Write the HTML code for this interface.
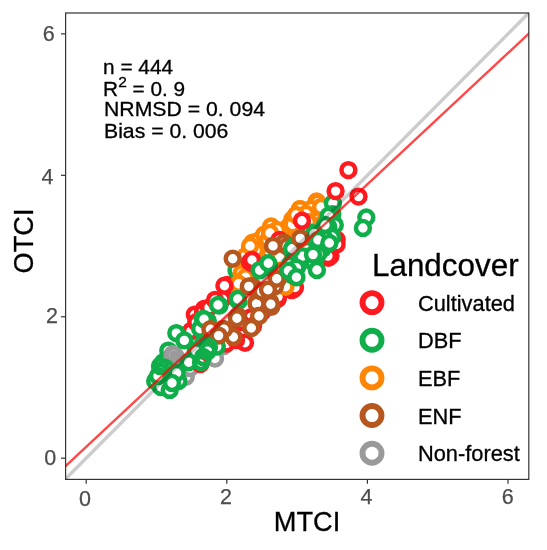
<!DOCTYPE html>
<html><head><meta charset="utf-8"><title>MTCI vs OTCI</title>
<style>
html,body{margin:0;padding:0;background:#fff;}
svg{display:block;}
text{font-family:"Liberation Sans",sans-serif;}
.tick{stroke:#4d4d4d;stroke-width:0.25px;fill:#4d4d4d;font-size:21.5px;}
.ax{stroke:#000;stroke-width:0.3px;fill:#000;font-size:27.2px;}
.ann{stroke:#000;stroke-width:0.3px;fill:#000;font-size:20.8px;}
.leg{stroke:#000;stroke-width:0.3px;fill:#000;font-size:21.8px;}
.pt{fill:#fff;stroke-width:4.5;}
</style></head><body>
<svg width="547" height="550" viewBox="0 0 547 550">
<rect x="0" y="0" width="547" height="550" fill="#fff"/>
<defs><clipPath id="cp"><rect x="65.6" y="13" width="463.2" height="466.4"/></clipPath></defs>

<g class="pt">
<circle cx="168.3" cy="350.6" r="6.95" stroke="#0fae4b"/>
<circle cx="163.2" cy="362.2" r="6.95" stroke="#0fae4b"/>
<circle cx="172.7" cy="354.2" r="6.95" stroke="#9a9a9a"/>
<circle cx="175.6" cy="356.4" r="6.95" stroke="#9a9a9a"/>
<circle cx="174.0" cy="355.0" r="6.95" stroke="#9a9a9a"/>
<circle cx="197.4" cy="340.4" r="6.95" stroke="#9a9a9a"/>
<circle cx="215.0" cy="358.5" r="6.95" stroke="#9a9a9a"/>
<circle cx="185.8" cy="376.8" r="6.95" stroke="#9a9a9a"/>
<circle cx="170.0" cy="376.0" r="6.95" stroke="#9a9a9a"/>
<circle cx="197.6" cy="338.9" r="6.95" stroke="#9a9a9a"/>
<circle cx="223.8" cy="346.0" r="6.95" stroke="#9a9a9a"/>
<circle cx="190.0" cy="368.0" r="6.95" stroke="#9a9a9a"/>
<circle cx="174.2" cy="355.3" r="5" fill="#9a9a9a" stroke="none"/>
<circle cx="194.8" cy="314.6" r="6.95" stroke="#ff1a1f"/>
<circle cx="204.0" cy="309.0" r="6.95" stroke="#ff1a1f"/>
<circle cx="191.0" cy="331.0" r="6.95" stroke="#ff1a1f"/>
<circle cx="226.5" cy="343.5" r="6.95" stroke="#ff1a1f"/>
<circle cx="200.3" cy="364.0" r="6.95" stroke="#ff1a1f"/>
<circle cx="203.0" cy="312.0" r="6.95" stroke="#ff1a1f"/>
<circle cx="196.3" cy="322.2" r="6.95" stroke="#ff1a1f"/>
<circle cx="222.5" cy="299.0" r="6.95" stroke="#ff1a1f"/>
<circle cx="251.3" cy="317.1" r="6.95" stroke="#ff1a1f"/>
<circle cx="245.0" cy="342.7" r="6.95" stroke="#ff1a1f"/>
<circle cx="236.0" cy="340.0" r="6.95" stroke="#ff1a1f"/>
<circle cx="227.6" cy="285.0" r="6.95" stroke="#ff1a1f"/>
<circle cx="291.6" cy="290.0" r="6.95" stroke="#ff1a1f"/>
<circle cx="280.0" cy="236.0" r="6.95" stroke="#ff1a1f"/>
<circle cx="277.5" cy="299.0" r="6.95" stroke="#ff1a1f"/>
<circle cx="293.2" cy="289.4" r="6.95" stroke="#ff1a1f"/>
<circle cx="253.0" cy="326.0" r="6.95" stroke="#ff1a1f"/>
<circle cx="209.0" cy="307.6" r="6.95" stroke="#ff1a1f"/>
<circle cx="257.7" cy="259.1" r="6.95" stroke="#ff1a1f"/>
<circle cx="330.4" cy="256.0" r="6.95" stroke="#ff1a1f"/>
<circle cx="336.6" cy="239.6" r="6.95" stroke="#ff1a1f"/>
<circle cx="336.1" cy="241.1" r="6.95" stroke="#ff1a1f"/>
<circle cx="328.4" cy="257.7" r="6.95" stroke="#ff1a1f"/>
<circle cx="295.0" cy="287.5" r="6.95" stroke="#ff1a1f"/>
<circle cx="327.9" cy="256.1" r="6.95" stroke="#ff1a1f"/>
<circle cx="336.6" cy="244.4" r="6.95" stroke="#ff1a1f"/>
<circle cx="278.0" cy="297.0" r="6.95" stroke="#ff1a1f"/>
<circle cx="302.9" cy="221.8" r="6.95" stroke="#ff1a1f"/>
<circle cx="215.0" cy="300.0" r="6.95" stroke="#ff1a1f"/>
<circle cx="262.0" cy="312.0" r="6.95" stroke="#ff1a1f"/>
<circle cx="240.0" cy="322.0" r="6.95" stroke="#ff1a1f"/>
<circle cx="236.5" cy="270.2" r="6.95" stroke="#0fae4b"/>
<circle cx="262.0" cy="238.8" r="6.95" stroke="#ff8505"/>
<circle cx="252.5" cy="242.7" r="6.95" stroke="#ff8505"/>
<circle cx="257.0" cy="249.7" r="6.95" stroke="#ff8505"/>
<circle cx="245.5" cy="256.1" r="6.95" stroke="#ff8505"/>
<circle cx="246.8" cy="267.0" r="6.95" stroke="#ff8505"/>
<circle cx="241.6" cy="273.4" r="6.95" stroke="#ff8505"/>
<circle cx="245.5" cy="277.3" r="6.95" stroke="#ff8505"/>
<circle cx="237.8" cy="286.2" r="6.95" stroke="#ff8505"/>
<circle cx="285.2" cy="285.0" r="6.95" stroke="#ff8505"/>
<circle cx="281.3" cy="256.8" r="6.95" stroke="#ff8505"/>
<circle cx="238.5" cy="283.8" r="6.95" stroke="#ff8505"/>
<circle cx="316.6" cy="201.5" r="6.95" stroke="#ff8505"/>
<circle cx="299.9" cy="209.2" r="6.95" stroke="#ff8505"/>
<circle cx="271.1" cy="226.5" r="6.95" stroke="#ff8505"/>
<circle cx="310.2" cy="215.6" r="6.95" stroke="#ff8505"/>
<circle cx="292.3" cy="219.4" r="6.95" stroke="#ff8505"/>
<circle cx="283.3" cy="232.3" r="6.95" stroke="#ff8505"/>
<circle cx="257.7" cy="241.2" r="6.95" stroke="#ff8505"/>
<circle cx="255.1" cy="250.2" r="6.95" stroke="#ff8505"/>
<circle cx="264.1" cy="234.8" r="6.95" stroke="#ff8505"/>
<circle cx="278.2" cy="255.3" r="6.95" stroke="#ff8505"/>
<circle cx="288.4" cy="227.1" r="6.95" stroke="#ff8505"/>
<circle cx="317.5" cy="202.7" r="6.95" stroke="#ff8505"/>
<circle cx="300.2" cy="209.1" r="6.95" stroke="#ff8505"/>
<circle cx="314.3" cy="212.9" r="6.95" stroke="#ff8505"/>
<circle cx="311.0" cy="209.0" r="6.95" stroke="#ff8505"/>
<circle cx="292.6" cy="224.4" r="6.95" stroke="#ff8505"/>
<circle cx="306.0" cy="214.0" r="6.95" stroke="#ff8505"/>
<circle cx="277.0" cy="230.0" r="6.95" stroke="#ff8505"/>
<circle cx="268.0" cy="240.0" r="6.95" stroke="#ff8505"/>
<circle cx="250.0" cy="246.0" r="6.95" stroke="#ff8505"/>
<circle cx="285.5" cy="286.8" r="6.95" stroke="#ff8505"/>
<circle cx="279.6" cy="257.5" r="6.95" stroke="#ff8505"/>
<circle cx="296.0" cy="215.0" r="6.95" stroke="#ff8505"/>
<circle cx="321.0" cy="207.0" r="6.95" stroke="#ff8505"/>
<circle cx="308.0" cy="222.0" r="6.95" stroke="#ff8505"/>
<circle cx="270.0" cy="233.0" r="6.95" stroke="#ff8505"/>
<circle cx="250.0" cy="262.0" r="6.95" stroke="#ff1a1f"/>
<circle cx="254.0" cy="264.0" r="6.95" stroke="#ff1a1f"/>
<circle cx="252.0" cy="260.0" r="6.95" stroke="#ff1a1f"/>
<circle cx="279.4" cy="240.0" r="6.95" stroke="#ff1a1f"/>
<circle cx="267.9" cy="265.1" r="6.95" stroke="#0fae4b"/>
<circle cx="238.5" cy="301.1" r="6.95" stroke="#0fae4b"/>
<circle cx="202.7" cy="319.0" r="6.95" stroke="#0fae4b"/>
<circle cx="207.8" cy="321.0" r="6.95" stroke="#0fae4b"/>
<circle cx="202.7" cy="344.0" r="6.95" stroke="#0fae4b"/>
<circle cx="200.1" cy="328.7" r="6.95" stroke="#0fae4b"/>
<circle cx="207.8" cy="344.0" r="6.95" stroke="#0fae4b"/>
<circle cx="216.8" cy="346.6" r="6.95" stroke="#0fae4b"/>
<circle cx="237.8" cy="299.0" r="6.95" stroke="#0fae4b"/>
<circle cx="219.5" cy="305.5" r="6.95" stroke="#0fae4b"/>
<circle cx="204.0" cy="319.2" r="6.95" stroke="#0fae4b"/>
<circle cx="287.7" cy="269.6" r="6.95" stroke="#0fae4b"/>
<circle cx="292.9" cy="272.0" r="6.95" stroke="#0fae4b"/>
<circle cx="269.4" cy="267.0" r="6.95" stroke="#0fae4b"/>
<circle cx="290.3" cy="247.8" r="6.95" stroke="#0fae4b"/>
<circle cx="296.9" cy="267.4" r="6.95" stroke="#0fae4b"/>
<circle cx="291.4" cy="274.7" r="6.95" stroke="#0fae4b"/>
<circle cx="284.0" cy="242.7" r="6.95" stroke="#b5571f"/>
<circle cx="287.1" cy="246.3" r="6.95" stroke="#b5571f"/>
<circle cx="252.5" cy="286.2" r="6.95" stroke="#b5571f"/>
<circle cx="277.5" cy="279.8" r="6.95" stroke="#b5571f"/>
<circle cx="267.3" cy="291.3" r="6.95" stroke="#b5571f"/>
<circle cx="275.0" cy="286.2" r="6.95" stroke="#b5571f"/>
<circle cx="257.0" cy="301.6" r="6.95" stroke="#b5571f"/>
<circle cx="269.8" cy="301.6" r="6.95" stroke="#b5571f"/>
<circle cx="263.1" cy="292.1" r="6.95" stroke="#b5571f"/>
<circle cx="258.5" cy="303.1" r="6.95" stroke="#b5571f"/>
<circle cx="271.3" cy="306.7" r="6.95" stroke="#b5571f"/>
<circle cx="237.9" cy="315.9" r="6.95" stroke="#b5571f"/>
<circle cx="256.5" cy="303.7" r="6.95" stroke="#b5571f"/>
<circle cx="222.5" cy="329.3" r="6.95" stroke="#b5571f"/>
<circle cx="251.3" cy="328.0" r="6.95" stroke="#b5571f"/>
<circle cx="233.4" cy="337.0" r="6.95" stroke="#b5571f"/>
<circle cx="214.2" cy="335.0" r="6.95" stroke="#b5571f"/>
<circle cx="210.4" cy="329.3" r="6.95" stroke="#b5571f"/>
<circle cx="261.6" cy="291.5" r="6.95" stroke="#b5571f"/>
<circle cx="248.8" cy="286.4" r="6.95" stroke="#b5571f"/>
<circle cx="259.0" cy="316.0" r="6.95" stroke="#b5571f"/>
<circle cx="224.0" cy="329.3" r="6.95" stroke="#b5571f"/>
<circle cx="218.6" cy="335.6" r="6.95" stroke="#b5571f"/>
<circle cx="236.9" cy="318.3" r="6.95" stroke="#b5571f"/>
<circle cx="276.7" cy="278.7" r="6.95" stroke="#b5571f"/>
<circle cx="268.0" cy="289.7" r="6.95" stroke="#b5571f"/>
<circle cx="270.8" cy="304.3" r="6.95" stroke="#b5571f"/>
<circle cx="273.0" cy="245.9" r="6.95" stroke="#b5571f"/>
<circle cx="232.7" cy="258.7" r="6.95" stroke="#b5571f"/>
<circle cx="176.3" cy="333.1" r="6.95" stroke="#0fae4b"/>
<circle cx="195.9" cy="351.3" r="6.95" stroke="#0fae4b"/>
<circle cx="165.4" cy="368.0" r="6.95" stroke="#0fae4b"/>
<circle cx="169.0" cy="375.3" r="6.95" stroke="#0fae4b"/>
<circle cx="155.2" cy="381.1" r="6.95" stroke="#0fae4b"/>
<circle cx="161.0" cy="387.0" r="6.95" stroke="#0fae4b"/>
<circle cx="178.5" cy="381.0" r="6.95" stroke="#0fae4b"/>
<circle cx="169.7" cy="389.9" r="6.95" stroke="#0fae4b"/>
<circle cx="188.7" cy="362.2" r="6.95" stroke="#0fae4b"/>
<circle cx="184.3" cy="340.4" r="6.95" stroke="#0fae4b"/>
<circle cx="176.6" cy="373.0" r="6.95" stroke="#0fae4b"/>
<circle cx="207.6" cy="351.2" r="6.95" stroke="#0fae4b"/>
<circle cx="160.0" cy="372.0" r="6.95" stroke="#0fae4b"/>
<circle cx="172.0" cy="383.0" r="6.95" stroke="#0fae4b"/>
<circle cx="158.0" cy="376.0" r="6.95" stroke="#0fae4b"/>
<circle cx="218.0" cy="305.0" r="6.95" stroke="#0fae4b"/>
<circle cx="259.6" cy="270.2" r="6.95" stroke="#0fae4b"/>
<circle cx="332.9" cy="203.3" r="6.95" stroke="#0fae4b"/>
<circle cx="332.3" cy="214.2" r="6.95" stroke="#0fae4b"/>
<circle cx="328.6" cy="215.7" r="6.95" stroke="#0fae4b"/>
<circle cx="334.8" cy="225.1" r="6.95" stroke="#0fae4b"/>
<circle cx="328.4" cy="227.0" r="6.95" stroke="#0fae4b"/>
<circle cx="332.0" cy="237.0" r="6.95" stroke="#0fae4b"/>
<circle cx="323.3" cy="236.0" r="6.95" stroke="#0fae4b"/>
<circle cx="309.2" cy="232.1" r="6.95" stroke="#0fae4b"/>
<circle cx="314.0" cy="233.5" r="6.95" stroke="#0fae4b"/>
<circle cx="322.7" cy="248.8" r="6.95" stroke="#0fae4b"/>
<circle cx="315.6" cy="259.0" r="6.95" stroke="#0fae4b"/>
<circle cx="302.8" cy="256.5" r="6.95" stroke="#0fae4b"/>
<circle cx="293.8" cy="246.2" r="6.95" stroke="#0fae4b"/>
<circle cx="292.3" cy="250.2" r="6.95" stroke="#0fae4b"/>
<circle cx="303.0" cy="256.0" r="6.95" stroke="#0fae4b"/>
<circle cx="321.3" cy="248.6" r="6.95" stroke="#0fae4b"/>
<circle cx="268.3" cy="263.2" r="6.95" stroke="#0fae4b"/>
<circle cx="314.0" cy="263.0" r="6.95" stroke="#0fae4b"/>
<circle cx="290.0" cy="265.0" r="6.95" stroke="#0fae4b"/>
<circle cx="310.0" cy="245.0" r="6.95" stroke="#0fae4b"/>
<circle cx="318.0" cy="240.0" r="6.95" stroke="#0fae4b"/>
<circle cx="306.0" cy="250.0" r="6.95" stroke="#0fae4b"/>
<circle cx="300.0" cy="262.0" r="6.95" stroke="#0fae4b"/>
<circle cx="325.0" cy="225.0" r="6.95" stroke="#0fae4b"/>
<circle cx="318.0" cy="254.0" r="6.95" stroke="#0fae4b"/>
<circle cx="366.3" cy="217.5" r="6.95" stroke="#0fae4b"/>
<circle cx="362.9" cy="228.0" r="6.95" stroke="#0fae4b"/>
<circle cx="302.3" cy="256.1" r="6.95" stroke="#0fae4b"/>
<circle cx="316.9" cy="270.0" r="6.95" stroke="#0fae4b"/>
<circle cx="296.4" cy="267.8" r="6.95" stroke="#0fae4b"/>
<circle cx="288.4" cy="270.7" r="6.95" stroke="#0fae4b"/>
<circle cx="292.0" cy="248.8" r="6.95" stroke="#0fae4b"/>
<circle cx="296.4" cy="277.3" r="6.95" stroke="#0fae4b"/>
<circle cx="329.3" cy="243.0" r="6.95" stroke="#0fae4b"/>
<circle cx="313.0" cy="254.6" r="6.95" stroke="#0fae4b"/>
<circle cx="300.3" cy="238.4" r="6.95" stroke="#b5571f"/>
<circle cx="203.0" cy="357.0" r="6.95" stroke="#0fae4b" fill="none"/>
<circle cx="201.0" cy="362.0" r="6.95" stroke="#0fae4b" fill="none"/>
<circle cx="209.0" cy="347.0" r="6.95" stroke="#0fae4b" fill="none"/>
<circle cx="160.0" cy="366.0" r="6.95" stroke="#0fae4b" fill="none"/>
<circle cx="224.4" cy="285.8" r="6.95" stroke="#ff1a1f"/>
<circle cx="301.9" cy="220.7" r="6.95" stroke="#ff1a1f"/>
<circle cx="348.4" cy="170.1" r="6.95" stroke="#ff1a1f"/>
<circle cx="335.6" cy="191.1" r="6.95" stroke="#ff1a1f"/>
<circle cx="358.5" cy="196.6" r="6.95" stroke="#ff1a1f"/>
</g>
<g clip-path="url(#cp)">
<line x1="58.08" y1="486.488" x2="536.12" y2="5.592" stroke="#000" stroke-width="3.4" stroke-opacity="0.2"/>
<line x1="58.08" y1="473.065" x2="536.12" y2="26.7939" stroke="#ff0000" stroke-width="2.4" stroke-opacity="0.72"/>
</g>
<rect x="65.6" y="13" width="463.2" height="466.4" fill="none" stroke="#333" stroke-width="1.2"/>
<line x1="86.2" y1="479.4" x2="86.2" y2="483.8" stroke="#333" stroke-width="1.2"/>
<line x1="61" y1="458.2" x2="65.6" y2="458.2" stroke="#333" stroke-width="1.2"/>
<line x1="226.8" y1="479.4" x2="226.8" y2="483.8" stroke="#333" stroke-width="1.2"/>
<line x1="61" y1="316.76" x2="65.6" y2="316.76" stroke="#333" stroke-width="1.2"/>
<line x1="367.4" y1="479.4" x2="367.4" y2="483.8" stroke="#333" stroke-width="1.2"/>
<line x1="61" y1="175.32" x2="65.6" y2="175.32" stroke="#333" stroke-width="1.2"/>
<line x1="508" y1="479.4" x2="508" y2="483.8" stroke="#333" stroke-width="1.2"/>
<line x1="61" y1="33.88" x2="65.6" y2="33.88" stroke="#333" stroke-width="1.2"/>
<text class="tick" x="85" y="506.2" text-anchor="middle">0</text>
<text class="tick" x="50.2" y="465" text-anchor="middle">0</text>
<text class="tick" x="226" y="504" text-anchor="middle">2</text>
<text class="tick" x="52" y="323" text-anchor="middle">2</text>
<text class="tick" x="366.5" y="504" text-anchor="middle">4</text>
<text class="tick" x="47.5" y="184.2" text-anchor="middle">4</text>
<text class="tick" x="507.8" y="504.4" text-anchor="middle">6</text>
<text class="tick" x="48.7" y="41.4" text-anchor="middle">6</text>
<text class="ax" x="307" y="530.6" text-anchor="middle">MTCI</text>
<text class="ax" transform="translate(33.2,241) rotate(-90)" text-anchor="middle">OTCI</text>
<text class="ann" x="103.1" y="74.2">n = 444</text>
<text class="ann" x="103.1" y="96">R<tspan dy="-9.5" font-size="15.5px">2</tspan><tspan dy="9.5"> = 0. 9</tspan></text>
<text class="ann" x="104" y="116" textLength="161" lengthAdjust="spacingAndGlyphs">NRMSD = 0. 094</text>
<text class="ann" x="104" y="138.2" textLength="124.4" lengthAdjust="spacingAndGlyphs">Bias = 0. 006</text>
<text x="372" y="276.2" font-size="31.4px" fill="#000" stroke="#000" stroke-width="0.3">Landcover</text>
<circle cx="372" cy="302.6" r="9.5" fill="#fff" stroke="#ff1a1f" stroke-width="5.9"/>
<text class="leg" x="418" y="310.7">Cultivated</text>
<circle cx="372" cy="340.25" r="9.5" fill="#fff" stroke="#0fae4b" stroke-width="5.9"/>
<text class="leg" x="418" y="348.35">DBF</text>
<circle cx="372" cy="377.9" r="9.5" fill="#fff" stroke="#ff8505" stroke-width="5.9"/>
<text class="leg" x="418" y="386">EBF</text>
<circle cx="372" cy="415.55" r="9.5" fill="#fff" stroke="#b5571f" stroke-width="5.9"/>
<text class="leg" x="418" y="423.65">ENF</text>
<circle cx="372" cy="453.2" r="9.5" fill="#fff" stroke="#9a9a9a" stroke-width="5.9"/>
<text class="leg" x="418" y="461.3">Non-forest</text>
</svg></body></html>
